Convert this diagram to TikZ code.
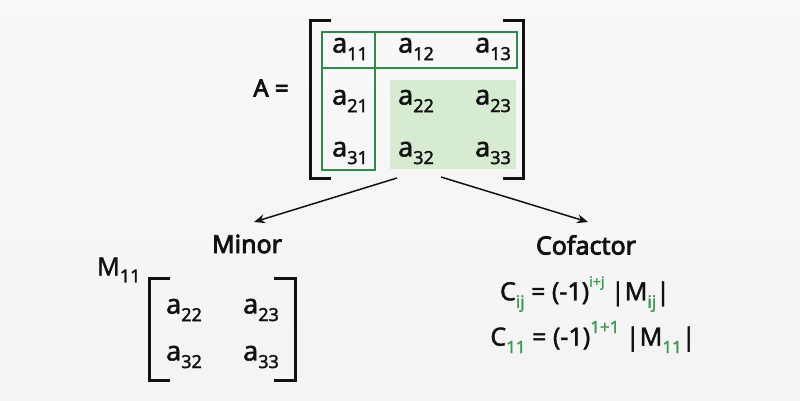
\documentclass[tikz,border=0pt]{standalone}
\usepackage{fontspec}
\setmainfont{Noto Sans}
\newfontfamily\medf{Noto Sans}[FakeBold=1.6]
\newfontfamily\boldf{Noto Sans}[FakeBold=3.2]
\usetikzlibrary{arrows.meta}
\definecolor{ink}{HTML}{111111}
\definecolor{gline}{HTML}{2E8B4A}
\definecolor{gfill}{HTML}{D6EBD1}
\definecolor{gtext}{HTML}{3A9A55}
\newcommand\ent[2]{#1\raisebox{-0.28em}{\fontsize{18}{18}\selectfont #2}}
\newcommand\gsub[1]{\raisebox{-0.3em}{\fontsize{17}{17}\selectfont\color{gtext}#1}}
\tikzset{
  el/.style={font=\medf\fontsize{27}{27}\selectfont, text=ink, inner sep=0pt},
  fm/.style={font=\medf\fontsize{25}{25}\selectfont, text=ink, inner sep=0pt},
  lbl/.style={font=\boldf\fontsize{25}{25}\selectfont, text=ink, inner sep=0pt},
  brk/.style={line width=3pt, draw=ink},
  gbox/.style={line width=1.6pt, draw=gline},
  arr/.style={line width=1.5pt, draw=ink, -{Stealth[length=11pt,width=9pt]}}
}
\begin{document}
\begin{tikzpicture}[x=1pt,y=-1pt]
\shade[top color=white!95!gray, bottom color=white!91!gray] (0,0) rectangle (800,400);
\useasboundingbox (0,0) rectangle (800,400);
% main matrix
\fill[gfill] (390,80) rectangle (516,169);
\draw[gbox] (322,32) rectangle (517,68);
\draw[gbox] (322,68) rectangle (375,170);
\draw[gbox] (375,32) -- (375,68);
\draw[brk] (331,20) -- (310,20) -- (310,178) -- (331,178);
\draw[brk] (503,20) -- (523,20) -- (523,178) -- (503,178);
\node[el] (A) at (271,88) {\boldf\fontsize{24}{24}\selectfont A =};
\node[el] (a11) at (350,49) {\ent{a}{11}};
\node[el] (a12) at (416,49) {\ent{a}{12}};
\node[el] (a13) at (493,49) {\ent{a}{13}};
\node[el] (a21) at (350,101) {\ent{a}{21}};
\node[el] (a22) at (416,101) {\ent{a}{22}};
\node[el] (a23) at (493,101) {\ent{a}{23}};
\node[el] (a31) at (350,153) {\ent{a}{31}};
\node[el] (a32) at (416,153) {\ent{a}{32}};
\node[el] (a33) at (493,153) {\ent{a}{33}};
% arrows
\coordinate (s1) at (397,178);
\coordinate (e1) at (254,222);
\coordinate (s2) at (441,177);
\coordinate (e2) at (588,222);
\draw[arr] (s1) -- (e1);
\draw[arr] (s2) -- (e2);
% labels
\node[lbl] (minor) at (247,244) {Minor};
\node[lbl] (cof) at (586,245) {Cofactor};
% minor matrix
\node[el, anchor=west] (M) at (97,270) {\fontsize{25}{25}\selectfont\ent{M}{11}};
\draw[brk] (170,278) -- (149,278) -- (149,380) -- (170,380);
\draw[brk] (274,278) -- (295,278) -- (295,380) -- (274,380);
\node[el] (m22) at (184,310) {\ent{a}{22}};
\node[el] (m23) at (261,310) {\ent{a}{23}};
\node[el] (m32) at (184,357) {\ent{a}{32}};
\node[el] (m33) at (261,357) {\ent{a}{33}};
% cofactor formulas
\node[fm] (f1) at (585,294) {C\gsub{ij} = (-1)\raisebox{0.55em}{\fontsize{14}{14}\selectfont\color{gtext}i+j} |M\gsub{ij}|};
\node[fm] (f2) at (593,337) {C\gsub{11} = (-1)\raisebox{0.5em}{\fontsize{17}{17}\selectfont\color{gtext}1+1} |M\gsub{11}|};
\end{tikzpicture}
\end{document}
